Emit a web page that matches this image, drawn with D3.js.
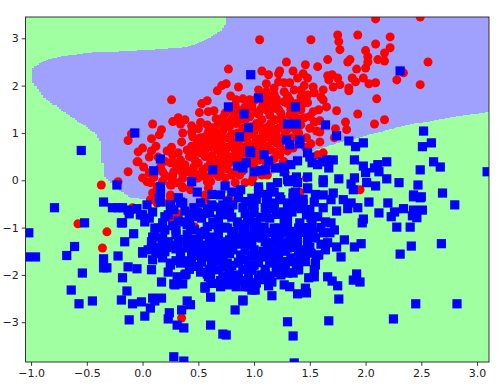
<!DOCTYPE html>
<html>
<head>
<meta charset="utf-8">
<script src="https://cdn.jsdelivr.net/npm/d3@7"></script>
<style>
  html, body { margin: 0; padding: 0; background: #fff; }
  svg { display: block; }
  text { font-family: "DejaVu Sans", sans-serif; }
</style>
</head>
<body>
<div id="chart"></div>
<script>
const xTicks = [-1, -0.5, 0, 0.5, 1, 1.5, 2, 2.5, 3];
const yTicks = [-3, -2, -1, 0, 1, 2, 3];
const xDomain = [-1.05, 3.107];
const yDomain = [-3.84, 3.45];
const meshStep = 0.02;

// edge of the class 1 decision region
const boundary = [[0.76,3.6],[0.76,3.35],[0.71,3.18],[0.58,2.97],[0.40,2.82],[0.04,2.76],[-0.38,2.71],[-0.74,2.61],[-0.89,2.52],[-0.98,2.38],[-1.00,2.23],[-0.98,2.06],[-0.89,1.76],[-0.71,1.45],[-0.53,1.17],[-0.41,0.96],[-0.36,0.71],[-0.36,0.37],[-0.35,0.07],[-0.23,-0.16],[-0.11,-0.37],[0.04,-0.41],[0.16,-0.48],[0.34,-0.56],[0.52,-0.52],[0.70,-0.31],[0.83,-0.14],[0.96,-0.05],[1.14,0.11],[1.32,0.33],[1.42,0.49],[1.49,0.60],[1.60,0.68],[2.02,0.96],[2.38,1.17],[2.77,1.34],[3.11,1.44],[3.2,1.46],[3.2,3.6]];

const redPoints = [[0.77,2.35],[0.75,2.04],[0.71,2.00],[0.67,1.89],[0.86,1.97],[0.79,1.78],[0.26,1.70],[0.58,1.68],[0.53,1.62],[0.51,1.43],[0.59,1.45],[0.64,1.47],[0.32,1.32],[0.38,1.28],[0.27,1.24],[0.34,1.19],[0.09,1.19],[0.17,1.07],[0.15,0.96],[-0.10,0.98],[-0.13,0.84],[0.08,0.88],[0.44,1.15],[0.50,1.09],[0.58,1.17],[0.59,1.02],[0.45,0.92],[0.35,0.81],[0.49,0.81],[0.0,0.68],[-0.04,0.60],[0.26,0.70],[0.22,0.62],[0.32,0.58],[0.40,0.64],[0.52,0.58],[0.06,0.49],[0.14,0.49],[0.27,0.53],[0.25,0.37],[-0.04,0.39],[0.01,0.28],[0.38,0.33],[0.33,0.22],[0.42,0.18],[-0.13,0.18],[-0.37,-0.10],[-0.22,-0.03],[0.0,0.05],[0.04,-0.03],[0.27,0.09],[0.61,-0.03],[0.54,0.16],[0.59,0.79],[0.67,0.64],[0.76,0.90],[0.70,1.00],[0.63,1.11],[0.72,1.32],[0.81,1.45],[0.87,1.28],[0.92,1.55],[0.96,1.70],[0.78,1.13],[0.85,1.00],[0.78,0.71],[0.70,0.49],[0.61,0.37],[0.78,0.37],[0.81,0.16],[0.67,0.22],[0.25,-0.10],[0.31,-0.05],[0.36,-0.14],[0.50,0.05],[0.13,-0.14],[0.09,-0.27],
[2.09,3.41],[2.49,3.45],[1.05,2.97],[1.51,2.97],[1.75,3.07],[1.76,2.93],[1.77,2.76],[1.93,3.07],[2.22,3.03],[2.09,2.88],[2.22,2.80],[2.00,2.74],[2.17,2.69],[2.02,2.61],[2.02,2.50],[2.11,2.55],[2.17,2.52],[1.66,2.55],[1.86,2.55],[1.84,2.50],[2.56,2.50],[1.29,2.50],[1.46,2.44],[1.57,2.40],[1.92,2.35],[2.00,2.37],[1.07,2.31],[1.23,2.31],[1.35,2.31],[1.13,2.23],[1.22,2.25],[1.44,2.25],[1.39,2.16],[1.48,2.16],[1.66,2.21],[1.70,2.23],[1.67,2.12],[1.75,2.16],[1.88,2.16],[1.98,2.16],[2.34,2.27],[2.28,2.12],[1.91,2.08],[2.03,2.04],[2.09,2.06],[2.49,2.02],[1.71,1.97],[1.77,2.02],[1.85,1.95],[1.85,1.89],[1.11,2.04],[1.22,2.08],[1.27,2.06],[1.32,2.06],[1.45,2.00],[1.53,1.97],[1.62,1.91],[2.10,1.72],[1.60,1.76],[1.62,1.70],[1.65,1.55],[1.74,1.47],[1.93,1.40],[2.17,1.28],[2.08,1.19],[1.82,1.23],[1.83,1.07],[1.73,1.09],[1.72,0.90],[1.54,1.23],[1.59,1.26],[1.53,1.45],[1.58,1.49],[1.48,1.64],[1.54,1.85],[1.42,1.76],[1.36,1.91],[1.27,1.87],[1.18,1.95],[1.11,1.87],[1.04,1.91],[1.15,1.70],[1.27,1.66],[1.22,1.49],[1.11,1.49],[1.02,1.43],[1.42,1.49],[1.45,1.32],[1.18,1.07],[1.06,1.11],[0.97,1.13],[1.11,0.92],[1.22,0.85],[1.04,0.71],[1.15,0.64],[1.56,1.04],[1.59,1.02],[1.59,0.81],[1.51,0.77],[1.62,0.58],[1.47,0.90],[1.42,1.17],[1.27,0.39],[1.20,0.79],
[0.83,1.59],[0.92,1.28],[1.01,1.70],[0.87,0.85],[0.96,0.64],[1.07,1.28],[1.19,1.28],[1.32,1.38],[1.37,1.07],[1.28,1.17],[1.05,0.43],[0.92,0.33],[0.83,0.54],[0.74,0.43],[0.65,0.33],[0.74,1.17],[0.96,0.96],[1.10,0.64],[1.23,0.54],[1.14,0.33],[0.87,0.11],[0.98,-0.03],[1.07,0.11],[0.74,0.05],[0.56,0.64],[0.65,0.85],[0.47,0.43],[0.34,0.43],[0.20,0.11],[0.16,-0.20],[0.07,-0.41],[0.25,-0.31],[0.43,-0.20],[0.56,-0.31],[0.78,-0.41],[1.41,-0.25],[1.95,-0.20],
[-0.05,0.39],[0.07,-0.05],[0.13,-0.48],[0.25,0.07],[0.27,0.39],[0.34,0.26],[0.41,0.18],[0.26,-0.10],[0.36,-0.16],[0.25,-0.35],[0.32,-0.73],[0.47,-0.99],[0.49,0.05],[0.58,-0.03],[0.59,-0.16],[0.56,-0.35],[0.77,-0.41],[-0.09,-0.58],[0.70,0.47],[0.54,0.22],[0.61,0.33],
[0.79,-0.44],[0.80,0.11],[0.83,-0.05],[0.92,-0.05],[0.99,0.05],[1.12,0.11],[1.28,0.16],[1.26,0.39],[1.47,0.05],[1.57,0.54],
[-0.58,-0.92],[-0.32,-1.09],[-0.36,-1.43],[-0.35,-1.75],[0.35,-2.91],[0.32,-0.71],[-0.09,-0.63],[0.09,-0.41],[0.27,-0.80],[0.56,-0.41],[0.23,-0.48]];

// the overlapped middle of the red cloud
const redDense = [[0.62,0.95],[0.68,0.78],[0.72,1.05],[0.80,0.98],[0.83,0.82],[0.91,0.90],[0.95,0.78],[1.02,0.86],[1.00,1.02],[1.08,0.98],[1.14,1.00],[1.16,0.84],[1.08,0.76],[1.00,0.58],[0.90,0.62],[0.82,0.68],[0.74,0.60],[0.68,0.42],[0.80,0.46],[0.88,0.48],[0.98,0.44],[1.08,0.50],[1.18,0.46],[1.30,0.62],[1.24,0.68],[1.34,0.90],[1.28,0.98],[1.40,1.00],[1.36,1.25],[1.25,1.30],[1.15,1.20],[1.02,1.20],[0.96,1.34],[1.04,1.40],[1.14,1.38],[1.24,1.42],[1.33,1.50],[1.38,1.62],[1.20,1.60],[1.08,1.60],[0.98,1.56],[0.88,1.48],[0.80,1.30],[0.68,1.20],[0.66,1.02],[0.56,0.92],[0.44,0.72],[0.46,0.56],[0.56,0.50],[0.50,0.36],[0.42,0.50],[0.30,0.32],[0.16,0.28],[0.10,0.06],[0.18,-0.02],[0.36,0.04],[0.44,0.02],[0.56,0.08],[0.68,0.08],[0.76,0.24],[0.90,0.20],[1.0,0.30],[1.22,0.26],[1.46,0.70],[1.35,0.68],[1.50,1.10],[1.50,1.35],[1.42,1.90],[1.18,1.82],[1.30,1.78],[1.48,1.80],[1.05,1.80],[0.98,1.62],[0.90,1.72],[0.84,1.70],[0.74,1.42],[0.66,1.30],[0.52,1.22],[0.44,1.02],[0.36,1.0],[0.12,0.72],[0.08,0.62],[0.20,0.40],[0.28,0.18],[0.18,0.18],[0.06,0.16],
[0.84,1.20],[0.90,1.10],[1.00,1.10],[1.12,1.12],[1.22,1.10],[1.30,1.08],[1.20,0.95],[1.06,0.88],[0.92,0.98],[0.78,0.88],[0.70,0.90],[0.72,0.74],[0.88,0.72],[1.00,0.74],[1.12,0.72],[1.20,0.60],[1.06,0.60],[0.86,0.56],[0.76,0.52],[0.92,0.52],[1.02,0.50],[0.84,0.38],[1.10,0.40],[1.18,1.52],[1.30,1.62],[1.12,1.62],[1.06,1.50],[0.94,1.44],[0.84,1.38],[0.78,1.22],[1.26,1.22],[1.36,1.40],[1.40,1.30],[1.20,1.72],[1.10,1.78],[1.32,1.70],[1.44,1.62],[0.68,0.92],[0.62,0.70],[0.54,0.76],[0.52,0.90],[0.48,0.66],[0.62,0.52],[0.58,0.28],[0.46,0.28],[0.36,0.14],[0.48,0.12],[0.62,0.14],[0.72,0.30],[0.70,0.18]];

const bluePoints = [[-0.55,0.63],[-0.07,1.00],[-0.23,-0.10],[0.10,0.20],[0.16,0.45],[0.63,0.22],[0.44,-0.03],[0.49,-0.25],[0.77,1.55],[0.91,1.40],[0.95,1.11],[0.87,0.92],[0.97,2.23],[0.96,0.62],[0.93,0.37],[0.85,0.30],[0.90,0.26],[0.74,-0.12],[0.88,-0.20],[0.16,-0.14],[0.16,-0.27],[0.70,-0.31],
[2.31,2.31],[1.04,1.74],[1.37,1.55],[1.30,1.19],[1.38,1.19],[1.64,1.17],[1.74,0.94],[1.29,0.85],[1.32,0.75],[1.41,0.85],[1.41,0.77],[1.85,0.83],[1.91,0.71],[1.98,0.79],[2.52,1.04],[2.51,0.71],[2.59,0.79],[1.48,0.58],[1.50,0.49],[1.52,0.37],[1.61,0.39],[1.67,0.26],[1.71,0.43],[1.65,0.43],[1.90,0.43],[1.98,0.30],[2.00,0.16],[2.11,0.33],[2.08,0.26],[2.19,0.39],[2.12,0.18],[2.19,0.03],[2.01,-0.05],[2.09,-0.12],[2.30,-0.05],[2.47,-0.10],[2.49,0.22],[2.61,0.39],[2.67,0.28],[3.09,0.18],[2.69,-0.27],[2.43,-0.31],[2.50,-0.35],[1.09,0.54],[1.13,0.41],[1.19,0.26],[1.27,0.28],[1.33,0.33],[1.39,0.41],[1.06,0.20],[1.00,0.18],[1.27,0.18],[1.48,0.07],[1.62,0.01],[1.62,-0.05],[1.76,0.03],[1.90,0.05],[1.87,-0.08],[1.89,-0.20],[1.71,-0.27],[1.62,-0.31],[1.48,-0.18],[1.39,-0.05],[1.31,-0.03],[1.38,0.07],[1.21,-0.05],[1.15,-0.14],[1.04,-0.14],[1.04,-0.27],[1.18,-0.25],[1.35,-0.27],[0.97,0.58],
[-0.79,-0.58],[-1.02,-1.11],[-0.52,-0.90],[-0.61,-1.40],[-0.68,-1.59],[-0.96,-1.62],[-1.04,-1.62],[-0.35,-0.46],[-0.27,-0.58],[-0.22,-0.58],[-0.13,-0.63],[-0.12,-0.71],[-0.19,-0.90],[-0.08,-1.13],[-0.16,-1.30],[-0.22,-1.60],[-0.35,-1.66],[-0.35,-1.85],[-0.32,-1.85],[-0.13,-1.83],[-0.05,-1.87],[0.08,-1.89],[-0.54,-1.96],[-0.18,-2.06],[-0.64,-2.32],[-0.14,-2.34],[0.17,-2.15],[-0.57,-2.61],[-0.45,-2.55],[-0.19,-2.53],[-0.09,-2.61],[-0.01,-2.57],[0.09,-2.49],[0.17,-2.49],[0.11,-2.55],[0.07,-2.70],[0.02,-2.87],[-0.12,-2.95],[0.24,-2.80],[0.23,-2.93],[0.35,-2.74],[0.40,-2.55],[0.43,-2.63],[0.61,-2.47],[0.56,-2.28],[0.28,-2.19],[0.36,-2.19],[0.31,-2.04],[0.39,-1.98],[0.23,-1.94],[0.18,-1.64],[0.31,-3.06],[0.37,-3.12],[0.61,-3.06],[0.72,-3.25],[0.83,-2.74],[0.90,-2.55],[0.28,-3.73],[0.37,-3.82],[0.70,-2.25],[0.77,-2.21],[0.86,-2.00],[0.95,-2.25],[0.61,-2.06],[0.68,-1.89],[0.52,-1.94],[0.0,-1.51],[0.05,-1.47],[0.13,-1.41],[0.09,-1.68],[0.18,-1.47],[0.23,-1.30],[0.27,-1.37],[0.34,-1.58],[0.25,-1.79],[0.34,-1.75],[0.44,-1.60],[0.52,-1.47],[0.53,-1.73],[0.63,-1.58],[0.72,-1.47],[0.78,-1.26],[0.87,-1.22],[0.95,-1.28],[0.81,-1.47],[0.86,-1.73],[0.76,-1.83],[0.95,-1.83],[0.52,-1.11],[0.53,-0.80],[0.63,-0.88],[0.68,-1.01],[0.76,-1.01],[0.70,-0.58],[0.81,-0.52],[0.90,-0.58],[0.85,-0.88],[0.94,-0.88],[0.38,-0.88],[0.43,-0.99],[0.11,-1.01],[0.14,-1.01],[0.11,-1.20],[0.27,-0.96],[0.20,-0.77],[0.02,-0.88],[-0.02,-0.73],[0.09,-0.67],[0.25,-0.56],[0.16,-0.46],[0.36,-0.48],[0.49,-0.67],[0.62,-0.52],[0.34,-0.46],
[2.03,-0.46],[2.20,-0.48],[2.43,-0.35],[2.49,-0.37],[2.80,-0.52],[2.12,-0.69],[2.23,-0.77],[2.26,-0.67],[2.34,-0.60],[2.43,-0.63],[2.51,-0.63],[2.42,-0.75],[2.46,-0.79],[2.28,-0.99],[2.40,-0.99],[1.97,-0.90],[1.98,-0.82],[2.41,-1.39],[2.31,-1.56],[2.68,-1.34],[1.96,-1.34],[1.90,-1.41],[1.81,-1.26],[1.74,-0.65],[1.80,-0.41],[1.87,-0.48],[1.93,-0.58],[1.84,-0.60],[1.69,-0.90],[1.72,-1.05],[1.62,-1.11],[1.53,-1.09],[1.57,-0.77],[1.51,-0.79],[1.62,-0.58],[1.54,-0.46],[1.69,-0.41],[1.47,-0.73],[1.40,-1.01],[1.27,-0.84],[1.26,-0.67],[1.11,-0.67],[1.11,-0.46],[1.24,-0.41],[1.35,-0.37],[1.36,-0.56],[1.00,-0.52],[1.02,-0.88],[1.09,-0.99],[1.18,-1.01],[1.22,-1.01],[1.39,-1.22],[1.48,-1.30],[1.66,-1.32],[1.74,-1.41],[1.78,-1.62],[1.58,-1.58],[1.51,-1.54],[1.45,-1.54],[1.33,-1.64],[1.27,-1.32],[1.17,-1.32],[1.20,-1.51],[1.22,-1.64],[1.08,-1.62],[1.06,-1.20],[1.00,-1.20],[1.00,-1.47],[1.00,-1.79],[1.06,-2.00],[1.02,-2.17],[1.01,-2.32],[1.13,-2.23],[1.16,-2.44],[1.27,-2.21],[1.32,-2.25],[1.24,-2.00],[1.35,-1.96],[1.38,-1.83],[1.40,-1.89],[1.55,-1.75],[1.54,-1.89],[1.54,-2.04],[1.49,-2.06],[1.46,-2.28],[1.47,-2.38],[1.39,-2.40],[1.66,-2.04],[1.70,-2.13],[1.75,-2.23],[1.76,-2.51],[1.92,-1.98],[1.89,-2.11],[1.95,-2.15],[2.45,-2.61],[2.82,-2.61],[2.25,-2.93],[1.67,-2.97],[1.30,-2.99],[1.35,-3.29],[1.36,-3.86],
[0.04,-0.52],[0.0,-0.73],[-0.18,-0.58],[-0.18,-0.90],[0.25,-0.52],[0.23,-0.73],[0.18,-0.90],[0.09,-1.20],[0.32,-0.37],[0.40,-0.94],[0.52,-0.48],[0.50,-0.77],[0.63,-0.56],[0.72,-0.52],[0.65,-0.94],[0.74,-0.99],[0.52,-1.15],[0.53,-1.37],[0.40,-1.43],[0.13,-1.47],[0.67,-1.47],[0.76,-1.37],[0.20,-1.51],[0.15,-0.37],
[0.89,0.28],[1.10,0.22],[1.04,-0.20],[1.30,0.01],[1.48,-0.16],[1.57,0.33],[1.37,-0.25],[1.10,-0.58],[1.23,-0.35],[1.39,-0.41],[0.86,-0.37],[0.98,-0.52],[1.34,-0.67],[0.76,-0.73],[0.86,-0.94],[1.04,-0.99],[1.19,-1.15],[1.30,-0.90],[1.41,-0.90],[1.48,-1.20],[1.64,-0.88],[0.92,-1.32],[1.07,-1.22],[1.39,-1.32],[1.68,-1.11],[1.64,-1.47],[1.46,-1.47],[1.30,-1.43],[1.13,-1.43],[0.78,-1.37],
[0.0,-1.54],[0.38,-2.00],[0.29,-2.21],[0.59,-2.04],[0.56,-2.25],[0.25,-1.75],[0.62,-1.68],[0.76,-1.75],[0.47,-1.58],[0.58,-1.54],[0.34,-1.54],[0.86,-1.75],[1.04,-1.58],[1.19,-1.58],[0.99,-1.79],[1.07,-2.04],[0.98,-2.17],[0.92,-2.25],[1.30,-1.96],[1.39,-1.89],[1.55,-1.79],[1.56,-1.58],[0.90,-2.53],[0.75,-3.27]];

// the overlapped middle of the blue cloud
const blueDense = [[0.60,-0.68],[0.70,-0.72],[0.78,-0.60],[0.92,-0.70],[1.00,-0.68],[1.14,-0.80],[1.18,-0.60],[1.30,-0.58],[1.42,-0.60],[1.50,-0.62],[0.58,-0.98],[0.82,-1.08],[0.92,-1.00],[1.00,-1.05],[1.14,-1.10],[1.30,-1.08],[1.37,-1.08],[1.52,-0.95],[1.60,-1.00],[0.40,-1.15],[0.46,-1.25],[0.60,-1.20],[0.68,-1.22],[0.72,-1.30],[0.85,-1.35],[0.98,-1.35],[1.10,-1.30],[1.22,-1.25],[1.32,-1.25],[1.55,-1.22],[1.60,-1.35],[0.42,-1.40],[0.60,-1.40],[0.88,-1.58],[0.72,-1.62],[0.98,-1.60],[1.12,-1.55],[1.28,-1.50],[1.40,-1.50],[1.42,-1.66],[0.42,-1.75],[0.56,-1.62],[0.66,-1.70],[0.92,-1.68],[1.14,-1.72],[1.26,-1.75],[1.36,-1.70],[1.46,-1.72],[0.42,-1.88],[0.60,-1.88],[0.78,-1.92],[0.90,-1.88],[1.10,-1.88],[1.20,-1.85],[1.28,-1.90],[0.72,-2.02],[0.95,-2.00],[0.82,-2.10],[1.14,-2.02],[0.92,-2.12],[1.16,-2.15],[1.10,-2.10],[0.62,-2.18],[0.78,-2.08],[0.84,-2.25],[0.98,-2.32],[0.08,-1.30],[0.18,-1.22],[0.30,-1.15],[0.32,-1.25],[0.42,-0.72],[0.38,-0.65],[0.28,-0.62],[0.46,-0.58],[0.06,-0.80],[-0.05,-0.60],[0.58,-0.60],[0.42,-1.28],[0.30,-1.45],[0.40,-1.30],[0.60,-1.30],[0.30,-1.70],[0.44,-1.72],[0.12,-1.55],[0.22,-1.42],[0.08,-1.42],[0.44,-1.48],[1.45,-1.10],[1.44,-0.40],[1.55,-0.30],[1.12,-0.30],[0.98,-0.38],[0.80,-0.25],[0.62,-0.30],
[0.46,-1.05],[0.56,-1.08],[0.68,-1.12],[0.80,-1.15],[0.90,-1.12],[1.08,-1.12],[1.24,-1.12],[1.36,-1.15],[1.46,-1.00],[1.30,-0.72],[1.20,-0.72],[1.06,-0.78],[0.96,-0.78],[0.80,-0.78],[0.68,-0.82],[0.56,-0.70],[0.42,-0.82],[0.32,-0.86],[0.30,-1.05],[0.20,-1.05],[0.18,-1.33],[0.32,-1.38],[0.50,-1.30],[0.66,-1.35],[0.82,-1.25],[0.94,-1.18],[1.12,-1.42],[1.22,-1.40],[1.36,-1.42],[1.50,-1.42],[0.66,-1.52],[0.78,-1.55],[0.92,-1.48],[1.08,-1.50],[0.52,-1.58],[0.72,-1.75],[0.80,-1.80],[0.50,-1.82],[0.62,-1.78],[0.98,-1.90],[1.04,-1.74],[1.18,-1.75],[1.30,-1.72],[1.10,-1.98],[1.20,-1.95],[0.70,-2.12],[0.86,-2.12],[1.04,-2.08],[0.40,-1.70],[0.58,-1.98],[1.02,-0.40],[1.18,-0.48],[1.30,-0.48],[1.44,-0.50],[0.92,-0.45],[0.76,-0.45]];

const width = 503, height = 391;
const margin = { left: 25.5, right: 14, top: 17, bottom: 29 };
const green = "#a0ffa0", lavender = "#a0a0ff";
const circleSize = 9, squareSize = 9.2;

const svg = d3.select("#chart").append("svg")
    .attr("width", width)
    .attr("height", height);

const sx = d3.scaleLinear().domain(xDomain).range([margin.left, width - margin.right]);
const sy = d3.scaleLinear().domain(yDomain).range([height - margin.bottom, margin.top]);

svg.append("clipPath").attr("id", "plot")
    .append("rect")
    .attr("x", sx.range()[0])
    .attr("y", sy.range()[1])
    .attr("width", sx.range()[1] - sx.range()[0])
    .attr("height", sy.range()[0] - sy.range()[1]);

const plot = svg.append("g").attr("clip-path", "url(#plot)");

plot.append("rect")
    .attr("x", sx.range()[0])
    .attr("y", sy.range()[1])
    .attr("width", sx.range()[1] - sx.range()[0])
    .attr("height", sy.range()[0] - sy.range()[1])
    .attr("fill", green);

// sample the region on a mesh, one rect for each run in a mesh column
const cols = d3.range(xDomain[0], xDomain[1], meshStep);
const rows = d3.range(yDomain[0], yDomain[1] + meshStep, meshStep);
const runs = [];
cols.forEach(cx => {
    let start = null;
    rows.forEach(cy => {
        const inside = d3.polygonContains(boundary, [cx + meshStep / 2, cy + meshStep / 2]);
        if (inside && start === null) start = cy;
        if (!inside && start !== null) {
            runs.push({ x: cx, y0: start, y1: cy });
            start = null;
        }
    });
    if (start !== null) runs.push({ x: cx, y0: start, y1: yDomain[1] + meshStep });
});

plot.append("g")
    .attr("shape-rendering", "crispEdges")
    .selectAll("rect")
    .data(runs)
    .join("rect")
    .attr("x", d => sx(d.x))
    .attr("y", d => sy(d.y1))
    .attr("width", sx(meshStep) - sx(0) + 0.5)
    .attr("height", d => sy(d.y0) - sy(d.y1))
    .attr("fill", lavender);

plot.append("g")
    .selectAll("circle")
    .data(redPoints.concat(redDense))
    .join("circle")
    .attr("cx", d => sx(d[0]))
    .attr("cy", d => sy(d[1]))
    .attr("r", circleSize / 2)
    .attr("fill", "#ff0000");

plot.append("g")
    .selectAll("rect")
    .data(bluePoints.concat(blueDense))
    .join("rect")
    .attr("x", d => sx(d[0]) - squareSize / 2)
    .attr("y", d => sy(d[1]) - squareSize / 2)
    .attr("width", squareSize)
    .attr("height", squareSize)
    .attr("fill", "#0000ff");

const xAxis = d3.axisBottom(sx).tickValues(xTicks).tickFormat(d3.format(".1f")).tickSize(3.8).tickPadding(3);
const yAxis = d3.axisLeft(sy).tickValues(yTicks).tickFormat(d3.format("d")).tickSize(3.8).tickPadding(3);

svg.append("g")
    .attr("transform", `translate(0,${sy.range()[0]})`)
    .call(xAxis)
    .call(g => g.select(".domain").remove());

svg.append("g")
    .attr("transform", `translate(${sx.range()[0]},0)`)
    .call(yAxis)
    .call(g => g.select(".domain").remove());

svg.selectAll(".tick text")
    .attr("font-size", 11)
    .attr("font-family", "DejaVu Sans")
    .attr("fill", "#222");

svg.selectAll(".tick line")
    .attr("stroke", "#222")
    .attr("stroke-width", 0.9);

svg.append("rect")
    .attr("x", sx.range()[0])
    .attr("y", sy.range()[1])
    .attr("width", sx.range()[1] - sx.range()[0])
    .attr("height", sy.range()[0] - sy.range()[1])
    .attr("fill", "none")
    .attr("stroke", "#222")
    .attr("stroke-width", 0.9);
</script>
</body>
</html>
